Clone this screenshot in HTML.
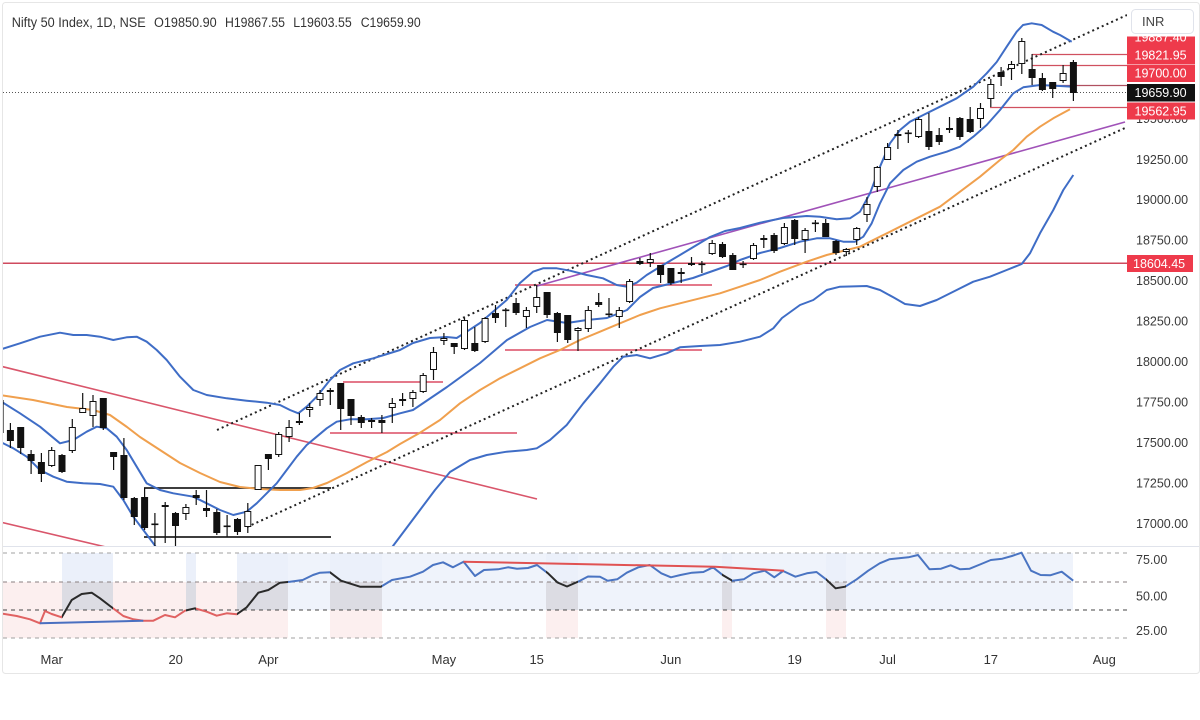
<!DOCTYPE html>
<html><head><meta charset="utf-8"><style>
html,body{margin:0;padding:0;background:#fff;}
svg{display:block;}
text{font-family:"Liberation Sans",sans-serif;}
</style></head><body>
<svg width="1200" height="720" viewBox="0 0 1200 720" xmlns="http://www.w3.org/2000/svg">
<defs>
<clipPath id="main"><rect x="3" y="3" width="1124" height="543"/></clipPath>
<clipPath id="rsi"><rect x="3" y="547" width="1124" height="100"/></clipPath>
<clipPath id="cBlue"><rect x="288" y="545" width="42" height="105"/><rect x="382" y="545" width="164" height="105"/><rect x="578" y="545" width="144" height="105"/><rect x="732" y="545" width="94" height="105"/><rect x="846" y="545" width="240" height="105"/></clipPath>
<clipPath id="cBlack"><rect x="62" y="545" width="51" height="105"/><rect x="186" y="545" width="10" height="105"/><rect x="237" y="545" width="51" height="105"/><rect x="330" y="545" width="52" height="105"/><rect x="546" y="545" width="32" height="105"/><rect x="722" y="545" width="10" height="105"/><rect x="826" y="545" width="20" height="105"/></clipPath>
<clipPath id="cRed"><rect x="0" y="545" width="62" height="105"/><rect x="113" y="545" width="73" height="105"/><rect x="196" y="545" width="41" height="105"/></clipPath>
<clipPath id="hid"><rect x="1127" y="36.5" width="68" height="10"/></clipPath>
</defs>
<rect x="0" y="0" width="1200" height="720" fill="#fff"/>
<rect x="2.5" y="2.5" width="1197" height="671" fill="none" stroke="#e6e6e6" stroke-width="1" rx="3"/>

<text y="27" font-size="13.5" fill="#333"><tspan x="11.7" textLength="134" lengthAdjust="spacingAndGlyphs">Nifty 50 Index, 1D, NSE</tspan><tspan x="154" textLength="62.7" lengthAdjust="spacingAndGlyphs">O19850.90</tspan><tspan x="225" textLength="60" lengthAdjust="spacingAndGlyphs">H19867.55</tspan><tspan x="293.3" textLength="58.4" lengthAdjust="spacingAndGlyphs">L19603.55</tspan><tspan x="360.7" textLength="60" lengthAdjust="spacingAndGlyphs">C19659.90</tspan></text>

<g clip-path="url(#main)">
<line x1="0" y1="366" x2="537" y2="499" stroke="#d9566b" stroke-width="1.6"/>
<line x1="0" y1="522" x2="110" y2="548" stroke="#d9566b" stroke-width="1.6"/>
<line x1="0" y1="263.3" x2="1127" y2="263.3" stroke="#cf4a5e" stroke-width="1.5"/>
<line x1="343" y1="382" x2="443" y2="382" stroke="#dc4c64" stroke-width="1.5"/>
<line x1="330" y1="433" x2="517" y2="433" stroke="#dc4c64" stroke-width="1.5"/>
<line x1="505" y1="350" x2="702" y2="350" stroke="#dc4c64" stroke-width="1.5"/>
<line x1="515" y1="285" x2="712" y2="285" stroke="#dc4c64" stroke-width="1.5"/>
<line x1="1032" y1="54.5" x2="1127" y2="54.5" stroke="#d0505f" stroke-width="1.3"/>
<line x1="1032" y1="65.5" x2="1127" y2="65.5" stroke="#d0505f" stroke-width="1.3"/>
<line x1="1032" y1="85.5" x2="1127" y2="85.5" stroke="#b05060" stroke-width="1.3"/>
<line x1="990" y1="107.5" x2="1127" y2="107.5" stroke="#d0505f" stroke-width="1.3"/>
<line x1="0" y1="92.5" x2="1127" y2="92.5" stroke="#555" stroke-width="1" stroke-dasharray="1 2"/>
<line x1="144" y1="488" x2="331" y2="488" stroke="#222" stroke-width="1.8"/>
<line x1="144" y1="537" x2="331" y2="537" stroke="#222" stroke-width="1.8"/>
<line x1="537" y1="286" x2="1125" y2="122" stroke="#a052b8" stroke-width="1.6"/>
<line x1="217" y1="430" x2="1127" y2="15" stroke="#222" stroke-width="2" stroke-dasharray="2 3.2"/>
<line x1="247" y1="527" x2="1125" y2="128" stroke="#222" stroke-width="2" stroke-dasharray="2 3.2"/>
<polyline fill="none" stroke="#f0a04e" stroke-width="2" stroke-linejoin="round" points="0,395 33,400 67,407 93,410 110,415 127,427 140,437 160,450 180,463 200,473 220,482 240,487 260,489 280,490 300,490 313,488 327,483 347,473 367,462 387,452 400,444 420,432.7 440,420 460,403.3 480,390 500,378.3 520,368.3 540,358.3 560,350 580,340 600,331.7 620,323.3 640,315 660,308.3 680,303.3 700,298.3 720,293.3 740,286.7 760,280 780,271.7 806.7,261.7 826.7,255 846.7,250 860,246.7 880,236.7 900,226.7 920,216.7 940,206.7 960,191.7 980,176.7 1000,160 1013.3,150 1026.7,136.7 1040,126.7 1053.3,118.3 1070,109.3"/>
<polyline fill="none" stroke="#3f6dc6" stroke-width="2" stroke-linejoin="round" points="0,349.6 20,343.3 40,336.7 60,332.7 73.3,335 86.7,335 100,336.7 113.3,340 126.7,337.3 136.7,336.7 146.7,341.7 156.7,350 166.7,360 180,376.7 193.3,390 206.7,395 226.7,398.3 246.7,400.7 266.7,402.7 280,405 290,410 298.3,413.3 306.7,406.7 316.7,396.7 330,380 340,370 353.3,363.3 373.3,358.3 400,350 413,343 430,338 446.7,337 456.7,338 466.7,331.7 480,323 493,311.7 506.7,300 520,283 533,271.7 543,268.3 556.7,268.3 570,270.7 586.7,275 603,278.3 616.7,285 626.7,286.7 636.7,282.7 646.7,275 663,265 680,255 696.7,245 710,237 725,231 740,228 760,222.7 783,218 806.7,216 820,216.7 836.7,219.3 850,218.3 860,211.7 870,193.3 880,166.7 890,143.3 900,130 910,121.7 923.3,115 940,106.7 956.7,98.3 973.3,86.7 986.7,73.3 996.7,62 1006.7,46.7 1016.7,31.7 1023,25 1031.7,23.3 1041.7,25 1053,31.7 1060,35 1071.7,41.7"/>
<polyline fill="none" stroke="#3f6dc6" stroke-width="2" stroke-linejoin="round" points="0,400.8 20,413.3 40,426.7 60,443.3 73.3,440 86.7,431.7 96.7,426.7 106.7,428.3 116.7,436.7 126.7,450 136.7,466.7 146.7,483.3 160,490 173.3,493.3 193.3,496.7 206.7,503.3 220,510 233.3,515 246.7,511.7 256.7,503.3 266.7,493.3 276.7,483.3 286.7,470 296.7,456.7 306.7,445 316.7,436.7 326.7,428.3 336.7,421.7 350,419.3 366.7,419.3 383.3,418 400,413.3 413,410 447,387 480,363 507,340 530,327 547,320 567,323 587,320 607,318 627,310 640,297 653,288 673,283 693,278 707,273 727,266 740,260 760,253 780,248 800,241.7 816.7,238.3 830,238.3 843.3,241.7 855,241.7 863.3,236.7 871.7,223.3 880,203.3 890,183.3 903.3,170 916.7,161.7 930,156.7 946.7,151.7 960,146.7 973.3,136.7 986.7,125 1000,110 1013.3,93.3 1023.3,87.3 1040,85 1060,86 1073,86.7"/>
<polyline fill="none" stroke="#3f6dc6" stroke-width="2" stroke-linejoin="round" points="0,441.7 13.3,448.3 26.7,456.7 40,470 53.3,476.7 66.7,481.7 83.3,483.3 100,484 113.3,486.7 123.3,500 133.3,516.7 143.3,530 153.3,543.3 160,553"/>
<polyline fill="none" stroke="#3f6dc6" stroke-width="2" stroke-linejoin="round" points="385,556 393,546 405,530 420,510 435,490 450,472 470,460 486.7,455 506.7,451.7 526.7,450 536.7,448.3 550,440 566.7,425 583.3,403.3 600,383.3 613.3,366.7 623.3,356.7 636.7,355 650,358.3 666.7,353.3 680,347.3 700,346 720,345 740,341.7 760,336.7 773.3,328.3 782,318 800,305 813.3,300 826.7,290 840,286.7 866.7,286 880,290 893.3,297.3 905,304 920,306 936.7,300 956.7,290 973.3,281.7 990,276.7 1006.7,270 1021.7,264 1030,253.3 1040,233.3 1053.3,210 1063.3,190 1073.3,175"/>
<path fill="none" stroke="#111" stroke-width="1.2" d="M0.1 398V436M10.4 423V448M20.7 427V454M31.1 450V474M41.4 453V482M51.7 447V467M62 454V473M72.3 419V453M82.7 393V413M93 395V427M103.3 398V430M113.6 452V470M123.9 438V500M134.3 497V525M144.6 488V530M154.9 513V546M165.2 502V543M175.5 512V546M185.9 504V520M196.2 490V505M206.5 490V517M216.8 509V535M227.1 515V537M237.5 518V535M247.8 503V533M258.1 465V490M268.4 454V470M278.7 432V457M289.1 420V442M299.4 413V425M309.7 403V417M320 390V406M330.3 388V405M340.7 383V430M351 399V425M361.3 415V428M371.6 418V428M381.9 415V433M392.3 398V423M402.6 393V406M412.9 390V407M423.2 373V393M433.5 347V380M443.9 333V345M454.2 343V354M464.5 318V350M474.8 327V352M485.1 317V343M495.5 305V323M505.8 308V327M516.1 298V315M526.4 307V328M536.7 285V313M547.1 292V318M557.4 312V342M567.7 315V343M578 327V351M588.3 306V332M598.7 293V307M609 298V317M619.3 307V328M629.6 279V303M639.9 258V265M650.3 253V267M660.6 265V283M670.9 268V285M681.2 268V283M691.5 257V266M701.9 261V273M712.2 240V255M722.5 242V258M732.8 253V270M743.1 261V268M753.5 243V260M763.8 235V248M774.1 233V253M784.4 223V245M794.7 219V245M805.1 228V253M815.4 220V232M825.7 219V237M836 240V255M846.3 248V256M856.7 227V245M867 197V222M877.3 166V192M887.6 143V160M897.9 130V149M908.3 130V143M918.6 117V138M928.9 113V150M939.2 128V145M949.5 117V133M959.9 117V140M970.2 107V133M980.5 103V128M990.8 79V107M1001.1 67V86M1011.5 61V80M1021.8 38V74M1032.1 54V85M1042.4 73V91M1052.7 82V98M1063.1 65V83M1073.4 60V101"/>
<g fill="#111">
<rect x="-3.4" y="400" width="7" height="33"/><rect x="6.9" y="430" width="7" height="11"/><rect x="17.2" y="427" width="7" height="21"/><rect x="27.6" y="454" width="7" height="7"/><rect x="37.9" y="462" width="7" height="12"/>
<rect x="58.5" y="455" width="7" height="17"/><rect x="99.8" y="398" width="7" height="30"/><rect x="110.1" y="452" width="7" height="5"/><rect x="120.4" y="455" width="7" height="43"/><rect x="130.8" y="498" width="7" height="19"/><rect x="141.1" y="497" width="7" height="31"/><rect x="151.4" y="523.5" width="7" height="1.6"/><rect x="161.7" y="505" width="7" height="2"/><rect x="172" y="513" width="7" height="13"/><rect x="192.7" y="495" width="7" height="3"/><rect x="203" y="508" width="7" height="3"/><rect x="213.3" y="512" width="7" height="21"/><rect x="223.6" y="525.5" width="7" height="1.6"/><rect x="234" y="519" width="7" height="13"/>
<rect x="264.9" y="454" width="7" height="5"/><rect x="295.9" y="421" width="7" height="2"/><rect x="337.2" y="383" width="7" height="26"/><rect x="347.5" y="399" width="7" height="17"/><rect x="357.8" y="417" width="7" height="6"/><rect x="368.1" y="420" width="7" height="2"/><rect x="378.4" y="420" width="7" height="3"/><rect x="399.1" y="399" width="7" height="2"/>
<rect x="450.7" y="343" width="7" height="4"/><rect x="471.3" y="343" width="7" height="8"/><rect x="492" y="313" width="7" height="5"/><rect x="502.3" y="309.5" width="7" height="1.6"/><rect x="512.6" y="303" width="7" height="10"/><rect x="543.6" y="292" width="7" height="23"/><rect x="553.9" y="313" width="7" height="20"/><rect x="564.2" y="315" width="7" height="25"/><rect x="595.2" y="302" width="7" height="3"/><rect x="605.5" y="313.5" width="7" height="1.6"/>
<rect x="636.4" y="261" width="7" height="3"/><rect x="657.1" y="265" width="7" height="10"/><rect x="667.4" y="268" width="7" height="15"/><rect x="677.7" y="272" width="7" height="2"/><rect x="688" y="263" width="7" height="2"/><rect x="698.4" y="263.5" width="7" height="1.6"/><rect x="719" y="244" width="7" height="13"/><rect x="729.3" y="255" width="7" height="15"/><rect x="739.6" y="263.5" width="7" height="1.6"/><rect x="770.6" y="235" width="7" height="16"/><rect x="791.2" y="220" width="7" height="19"/><rect x="811.9" y="222.5" width="7" height="1.6"/><rect x="822.2" y="223" width="7" height="14"/><rect x="832.5" y="241" width="7" height="12"/>
<rect x="894.4" y="134" width="7" height="2"/><rect x="904.8" y="132.5" width="7" height="1.6"/><rect x="925.4" y="131" width="7" height="16"/><rect x="935.7" y="135" width="7" height="7"/><rect x="956.4" y="118" width="7" height="19"/><rect x="966.7" y="119" width="7" height="13"/><rect x="997.6" y="72" width="7" height="5"/><rect x="1028.6" y="69" width="7" height="9"/><rect x="1038.9" y="78" width="7" height="12"/><rect x="1049.2" y="82" width="7" height="7"/><rect x="1069.9" y="62" width="7" height="31"/>
</g>
<g fill="#fff" stroke="#111" stroke-width="1">
<rect x="48.7" y="450.5" width="6" height="15"/><rect x="69.3" y="427.5" width="6" height="23"/><rect x="79.7" y="408.5" width="6" height="4"/><rect x="90" y="401.5" width="6" height="14"/><rect x="182.9" y="507.5" width="6" height="6"/><rect x="244.8" y="511.5" width="6" height="15"/><rect x="255.1" y="465.5" width="6" height="24"/><rect x="275.7" y="434.5" width="6" height="20"/><rect x="286.1" y="427.5" width="6" height="9"/><rect x="306.7" y="407.5" width="6" height="2"/><rect x="317" y="393.5" width="6" height="6"/><rect x="327.3" y="390.5" width="6" height="1"/>
<rect x="389.3" y="403.5" width="6" height="4"/><rect x="409.9" y="392.5" width="6" height="6"/><rect x="420.2" y="375.5" width="6" height="16"/><rect x="430.5" y="352.5" width="6" height="17"/><rect x="440.9" y="338.5" width="6" height="2"/><rect x="461.5" y="320.5" width="6" height="28"/><rect x="482.1" y="318.5" width="6" height="23"/><rect x="523.4" y="310.5" width="6" height="6"/><rect x="533.7" y="297.5" width="6" height="9"/><rect x="575" y="328.5" width="6" height="2"/><rect x="585.3" y="310.5" width="6" height="18"/><rect x="616.3" y="310.5" width="6" height="6"/><rect x="626.6" y="281.5" width="6" height="20"/><rect x="647.3" y="259.5" width="6" height="3"/>
<rect x="709.2" y="243.5" width="6" height="10"/><rect x="750.5" y="245.5" width="6" height="13"/><rect x="760.8" y="238.5" width="6" height="1"/><rect x="781.4" y="227.5" width="6" height="16"/><rect x="802.1" y="230.5" width="6" height="9"/><rect x="843.3" y="249.5" width="6" height="2"/><rect x="853.7" y="228.5" width="6" height="11"/><rect x="864" y="204.5" width="6" height="10"/><rect x="874.3" y="167.5" width="6" height="19"/><rect x="884.6" y="147.5" width="6" height="12"/><rect x="915.6" y="119.5" width="6" height="17"/><rect x="946.5" y="128.5" width="6" height="1"/><rect x="977.5" y="108.5" width="6" height="10"/><rect x="987.8" y="84.5" width="6" height="14"/><rect x="1008.5" y="64.5" width="6" height="4"/><rect x="1018.8" y="41.5" width="6" height="22"/><rect x="1060.1" y="73.5" width="6" height="7"/>
</g>
</g>

<line x1="3" y1="546.5" x2="1199" y2="546.5" stroke="#e0e3eb" stroke-width="1"/>

<g clip-path="url(#rsi)">
<g fill="#fcefef">
<rect x="0" y="582" width="62" height="56"/><rect x="113" y="582" width="73" height="56"/><rect x="196" y="582" width="41" height="56"/>
</g>
<g>
<rect x="62" y="553" width="51" height="29" fill="#ebf0fa"/><rect x="62" y="582" width="51" height="28" fill="#dcdce3"/><rect x="62" y="610" width="51" height="28" fill="#fcefef"/>
<rect x="186" y="553" width="10" height="29" fill="#ebf0fa"/><rect x="186" y="582" width="10" height="28" fill="#dcdce3"/><rect x="186" y="610" width="10" height="28" fill="#fcefef"/>
<rect x="237" y="553" width="51" height="29" fill="#ebf0fa"/><rect x="237" y="582" width="51" height="28" fill="#dcdce3"/><rect x="237" y="610" width="51" height="28" fill="#fcefef"/>
<rect x="330" y="553" width="52" height="29" fill="#ebf0fa"/><rect x="330" y="582" width="52" height="28" fill="#dcdce3"/><rect x="330" y="610" width="52" height="28" fill="#fcefef"/>
<rect x="546" y="553" width="32" height="29" fill="#ebf0fa"/><rect x="546" y="582" width="32" height="28" fill="#dcdce3"/><rect x="546" y="610" width="32" height="28" fill="#fcefef"/>
<rect x="722" y="553" width="10" height="29" fill="#ebf0fa"/><rect x="722" y="582" width="10" height="28" fill="#dcdce3"/><rect x="722" y="610" width="10" height="28" fill="#fcefef"/>
<rect x="826" y="553" width="20" height="29" fill="#ebf0fa"/><rect x="826" y="582" width="20" height="28" fill="#dcdce3"/><rect x="826" y="610" width="20" height="28" fill="#fcefef"/>
</g>
<g fill="#eff3fb">
<rect x="288" y="553" width="42" height="57"/><rect x="382" y="553" width="164" height="57"/><rect x="578" y="553" width="144" height="57"/><rect x="732" y="553" width="94" height="57"/><rect x="846" y="553" width="227" height="57"/>
</g>
<line x1="3" y1="553" x2="1127" y2="553" stroke="#a0a0a0" stroke-width="1" stroke-dasharray="4 4"/>
<line x1="3" y1="582" x2="1127" y2="582" stroke="#8a7f80" stroke-width="1" stroke-dasharray="4 4"/>
<line x1="3" y1="610" x2="1127" y2="610" stroke="#444" stroke-width="1" stroke-dasharray="4 4"/>
<line x1="3" y1="638" x2="1127" y2="638" stroke="#a0a0a0" stroke-width="1" stroke-dasharray="4 4"/>
<polyline fill="none" stroke="#4a74c2" stroke-width="2" stroke-linejoin="round" clip-path="url(#cBlue)" points="0,613.3 16.7,616 30,619.3 40,623.3 45,611 51.7,614 61.7,617.3 71.7,600 81.7,594 91.7,592.7 100,598.3 110,606 123.3,616 133.3,619.3 143.3,620.7 153.3,620.7 165,615 175,617.3 185,610.7 195,608.3 206.7,611.7 216.7,615.7 226.7,613.3 236.7,614.3 246.7,607.3 258.3,592.7 268.3,590 280,582.7 290,581.7 302.7,580 313,575 320,572.7 330,572.3 341,580.7 360,586.7 381,586.7 392,580 410,576.7 423,571.7 433,565 443,562.3 453,567.3 463.6,561.7 475,576 484,570 498,569.3 508,567.3 517,568.7 528,568 537,565 548,573.3 557.5,582.5 567,586.5 578,581.7 588,576.5 600,576.7 607.7,580.7 617.2,579.3 626.8,572.7 638.3,567.3 649.8,565 661.3,573.3 670.9,577.3 680.5,575 692,572.7 703.4,572 713,567.3 722.6,575 732.2,580.7 743.7,579.3 753.3,573.3 764.8,570.7 774.3,577.3 783.1,571 795.4,576.7 806.9,573.3 816.5,572 826,579.3 835.6,588.3 845.2,586.7 856.7,579.3 868.2,570.7 879.7,563.3 889.3,559.3 898.9,558.3 908.4,557.3 918,555 929.5,569.3 941,568.7 950.6,565.3 960.2,569.3 969.7,568.7 981.2,564 990.8,560 1002.3,558.7 1011.9,556 1021.5,552.7 1031,570.7 1040.6,575 1050.2,575.3 1061.7,571.7 1073.2,580.7"/>
<polyline fill="none" stroke="#2a2a2a" stroke-width="2" stroke-linejoin="round" clip-path="url(#cBlack)" points="0,613.3 16.7,616 30,619.3 40,623.3 45,611 51.7,614 61.7,617.3 71.7,600 81.7,594 91.7,592.7 100,598.3 110,606 123.3,616 133.3,619.3 143.3,620.7 153.3,620.7 165,615 175,617.3 185,610.7 195,608.3 206.7,611.7 216.7,615.7 226.7,613.3 236.7,614.3 246.7,607.3 258.3,592.7 268.3,590 280,582.7 290,581.7 302.7,580 313,575 320,572.7 330,572.3 341,580.7 360,586.7 381,586.7 392,580 410,576.7 423,571.7 433,565 443,562.3 453,567.3 463.6,561.7 475,576 484,570 498,569.3 508,567.3 517,568.7 528,568 537,565 548,573.3 557.5,582.5 567,586.5 578,581.7 588,576.5 600,576.7 607.7,580.7 617.2,579.3 626.8,572.7 638.3,567.3 649.8,565 661.3,573.3 670.9,577.3 680.5,575 692,572.7 703.4,572 713,567.3 722.6,575 732.2,580.7 743.7,579.3 753.3,573.3 764.8,570.7 774.3,577.3 783.1,571 795.4,576.7 806.9,573.3 816.5,572 826,579.3 835.6,588.3 845.2,586.7 856.7,579.3 868.2,570.7"/>
<polyline fill="none" stroke="#e06262" stroke-width="2" stroke-linejoin="round" clip-path="url(#cRed)" points="0,613.3 16.7,616 30,619.3 40,623.3 45,611 51.7,614 61.7,617.3 71.7,600 81.7,594 91.7,592.7 100,598.3 110,606 123.3,616 133.3,619.3 143.3,620.7 153.3,620.7 165,615 175,617.3 185,610.7 195,608.3 206.7,611.7 216.7,615.7 226.7,613.3 236.7,614.3 246.7,607.3"/>
<line x1="40" y1="623.3" x2="143.3" y2="620.7" stroke="#4a6fc0" stroke-width="2"/>
<polyline fill="none" stroke="#e05252" stroke-width="2" points="463.6,561.7 600,564.5 715,566.7 784,570.7"/>
</g>

<g font-size="12.5" fill="#3a3a3a">
<text x="1136" y="123">19500.00</text>
<text x="1136" y="163.8">19250.00</text>
<text x="1136" y="204.2">19000.00</text>
<text x="1136" y="244.7">18750.00</text>
<text x="1136" y="285.1">18500.00</text>
<text x="1136" y="325.6">18250.00</text>
<text x="1136" y="366">18000.00</text>
<text x="1136" y="406.5">17750.00</text>
<text x="1136" y="446.9">17500.00</text>
<text x="1136" y="487.4">17250.00</text>
<text x="1136" y="527.8">17000.00</text>
<text x="1136" y="564">75.00</text>
<text x="1136" y="600.5">50.00</text>
<text x="1136" y="635.2">25.00</text>
</g>

<g clip-path="url(#hid)"><rect x="1127" y="28" width="68" height="19" fill="#ee3a4b"/><text x="1134.5" y="41.5" font-size="12.5" fill="#fff">19887.40</text></g>
<rect x="1127" y="46.5" width="68" height="17.5" fill="#ee3a4b"/><text x="1134.5" y="59.5" font-size="12.5" fill="#fff">19821.95</text>
<rect x="1127" y="64.5" width="68" height="17.5" fill="#ee3a4b"/><text x="1134.5" y="77.5" font-size="12.5" fill="#fff">19700.00</text>
<rect x="1127" y="84" width="68" height="17.5" fill="#111"/><text x="1134.5" y="97" font-size="12.5" fill="#fff">19659.90</text>
<rect x="1127" y="102.5" width="68" height="17" fill="#ee3a4b"/><text x="1134.5" y="115.5" font-size="12.5" fill="#fff">19562.95</text>
<rect x="1127" y="255" width="66" height="17" fill="#ee3a4b"/><text x="1133" y="268" font-size="12.5" fill="#fff">18604.45</text>

<rect x="1131.5" y="9.5" width="62" height="24" rx="4" fill="#fff" stroke="#e0e3eb"/>
<text x="1142" y="26" font-size="13" fill="#444">INR</text>

<g font-size="13" fill="#333" text-anchor="middle">
<text x="51.7" y="664">Mar</text>
<text x="175.7" y="664">20</text>
<text x="268.4" y="664">Apr</text>
<text x="443.9" y="664">May</text>
<text x="536.7" y="664">15</text>
<text x="670.9" y="664">Jun</text>
<text x="794.7" y="664">19</text>
<text x="887.6" y="664">Jul</text>
<text x="990.8" y="664">17</text>
<text x="1104.3" y="664">Aug</text>
</g>
</svg>
</body></html>
